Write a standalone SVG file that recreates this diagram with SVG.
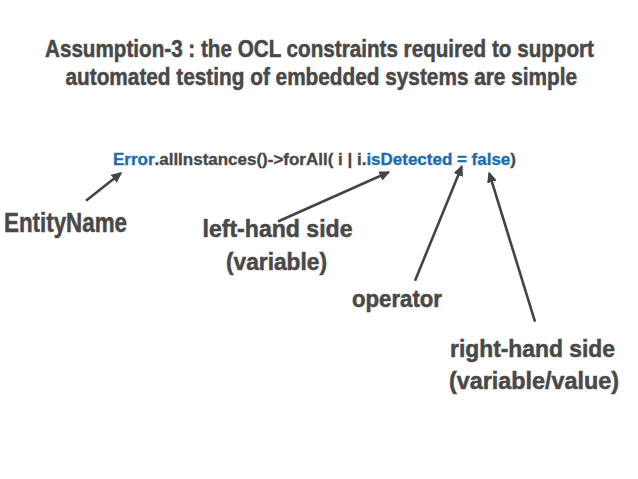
<svg xmlns="http://www.w3.org/2000/svg" width="638" height="479" viewBox="0 0 638 479">
<defs>
<style>
text{font-family:"Liberation Sans","Arial",sans-serif;font-weight:bold;fill:#494949;stroke:#494949;stroke-width:0.45}
.title{font-size:20px}
.code{font-size:14.2px;stroke-width:0.3}
.blue{fill:#1c6dab;stroke:#1c6dab}
.lbl{font-size:20px}
.big{font-size:23.4px}
.conn line{stroke:#444;stroke-width:2.6;marker-end:url(#ah)}
</style>
<marker id="ah" markerUnits="userSpaceOnUse" markerWidth="11" markerHeight="10" refX="9" refY="5" orient="auto" viewBox="0 0 11 10">
<path d="M0,0 L11,5 L0,10 z" fill="#444"/>
</marker>
</defs>
<rect width="638" height="479" fill="#fff"/>
<g id="title">
<text class="title" transform="translate(45,57) scale(1,1.2)" textLength="549" lengthAdjust="spacingAndGlyphs">Assumption-3 : the OCL constraints required to support</text>
<text class="title" transform="translate(65.5,84.5) scale(1,1.2)" textLength="511.5" lengthAdjust="spacingAndGlyphs">automated testing of embedded systems are simple</text>
</g>
<g id="expression">
<text class="code" transform="translate(113,164.5) scale(1,1.2)" textLength="403" lengthAdjust="spacingAndGlyphs"><tspan class="blue">Error</tspan>.allInstances()-&gt;forAll( i | i.<tspan class="blue">isDetected = false</tspan>)</text>
</g>
<g id="entityname">
<text class="big" transform="translate(4,232) scale(1,1.2)" textLength="123" lengthAdjust="spacingAndGlyphs">EntityName</text>
</g>
<g id="lhs">
<text class="lbl" transform="translate(202.5,237) scale(1,1.2)" textLength="150" lengthAdjust="spacingAndGlyphs">left-hand side</text>
<text class="lbl" transform="translate(226,269.5) scale(1,1.2)" textLength="101" lengthAdjust="spacingAndGlyphs">(variable)</text>
</g>
<g id="operator">
<text class="lbl" transform="translate(352,307) scale(1,1.2)" textLength="90" lengthAdjust="spacingAndGlyphs">operator</text>
</g>
<g id="rhs">
<text class="lbl" transform="translate(450,357) scale(1,1.2)" textLength="165" lengthAdjust="spacingAndGlyphs">right-hand side</text>
<text class="lbl" transform="translate(449,388.5) scale(1,1.2)" textLength="170" lengthAdjust="spacingAndGlyphs">(variable/value)</text>
</g>
<g class="conn" id="connectors">
<line x1="86" y1="200.7" x2="120.7" y2="173.3"/>
<line x1="278" y1="221.5" x2="388.5" y2="172.3"/>
<line x1="415" y1="280.7" x2="461.7" y2="166.7"/>
<line x1="535" y1="321.7" x2="489.3" y2="173.3"/>
</g>
</svg>
